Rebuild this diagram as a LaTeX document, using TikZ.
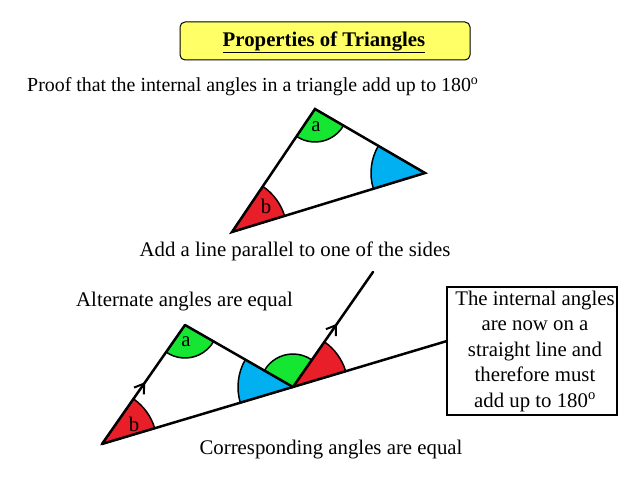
\documentclass[tikz,border=0pt]{standalone}
\usepackage{fontspec}
\setmainfont{Liberation Serif}
\usetikzlibrary{calc,decorations.markings,arrows.meta}
\definecolor{cgreen}{RGB}{20,230,50}
\definecolor{cred}{RGB}{232,30,40}
\definecolor{cblue}{RGB}{0,176,240}
\definecolor{cyel}{RGB}{255,255,102}
\newcommand{\mysector}[5]{%
  \filldraw[fill=#5,draw=black,line width=1.5pt] let \p1=($(#2)-(#1)$),\p2=($(#3)-(#1)$),
    \n1={atan2(\y1,\x1)},\n2={atan2(\y2,\x2)},\n3={mod(\n2-\n1+540,360)-180} in
    (#1) -- ++(-\n1:#4) arc[start angle=-\n1,delta angle=-\n3,radius=#4] -- cycle;}
\begin{document}
\begin{tikzpicture}[x=1pt,y=-1pt,
  txt/.style={font=\fontsize{20.8}{24}\selectfont,inner sep=0pt},
  edge/.style={line width=2.5pt,line cap=round},
  midarrow/.style={decoration={markings,mark=at position #1 with {\arrow{Straight Barb[length=9pt,width=12pt,line width=2pt]}}},postaction={decorate}}]
\useasboundingbox (0,0) rectangle (638,478);
% title
\node[draw,fill=cyel,rounded corners=5pt,line width=1pt,minimum width=290pt,minimum height=38pt] (title) at (325,41) {};
\node[txt,font=\fontsize{20.8}{24}\selectfont\bfseries] (tt) at (324,42) {\underline{Properties of Triangles}};
\node[txt,anchor=west,font=\fontsize{19.9}{24}\selectfont] (proof) at (27,87) {Proof that the internal angles in a triangle add up to 180\textsuperscript{o}};
% top triangle
\coordinate (B1) at (232,232);
\coordinate (A1) at (315,109);
\coordinate (C1) at (425,173);
\mysector{B1}{A1}{C1}{55}{cred}
\mysector{A1}{B1}{C1}{33}{cgreen}
\mysector{C1}{A1}{B1}{54}{cblue}
\draw[edge] (B1) -- (A1) -- (C1) -- cycle;
\node[txt] (la1) at (316,127) {a};
\node[txt] (lb1) at (266,206) {b};
\node[txt] (add) at (295,251) {Add a line parallel to one of the sides};
\node[txt,anchor=west] (alt) at (76,302) {Alternate angles are equal};
% bottom figure
\coordinate (B2) at (102,444);
\coordinate (A2) at (185,325);
\coordinate (P) at (293,387);
\coordinate (Q) at (373,272);
\coordinate (E) at (447,341);
\mysector{B2}{A2}{E}{55}{cred}
\mysector{A2}{B2}{P}{33}{cgreen}
\mysector{P}{B2}{A2}{55}{cblue}
\mysector{P}{A2}{Q}{33}{cgreen}
\mysector{P}{Q}{E}{55}{cred}
\draw[edge] (A2) -- (P);
\draw[edge] (B2) -- (E);
\draw[edge,midarrow=0.52] (B2) -- (A2);
\draw[edge,midarrow=0.55] (P) -- (Q);
\node[txt] (la2) at (186,342) {a};
\node[txt] (lb2) at (134,424) {b};
\node[txt] (corr) at (331,450) {Corresponding angles are equal};
% box
\node[draw,line width=1.2pt,minimum width=170pt,minimum height=128pt] (box) at (532,351) {};
\node[txt,align=center,font=\fontsize{20.8}{25.5}\selectfont] (boxt) at (535,351) {The internal angles\\are now on a\\straight line and\\therefore must\\add up to 180\textsuperscript{o}};
\end{tikzpicture}
\end{document}
